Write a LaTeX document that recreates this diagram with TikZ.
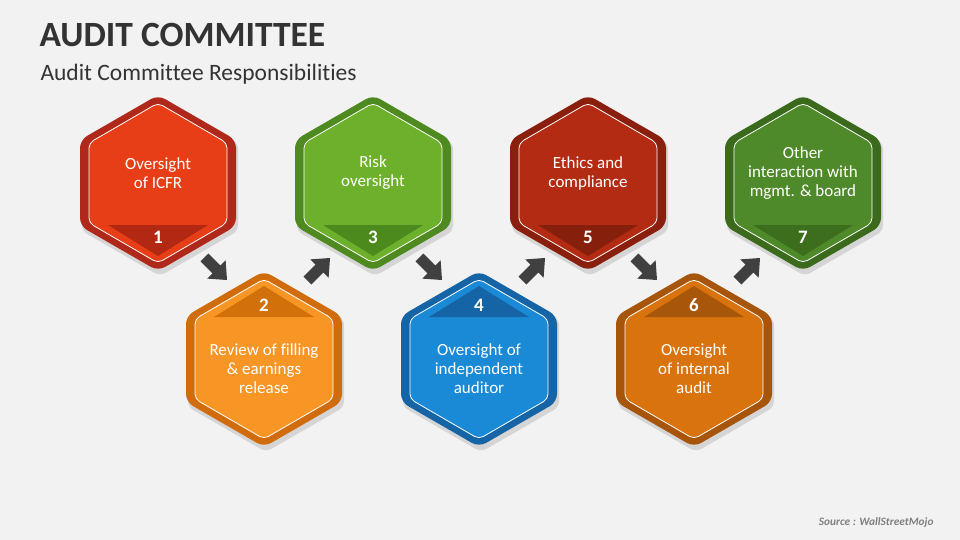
\documentclass[tikz,border=0pt]{standalone}
\usepackage{fontspec}
\setmainfont{Carlito}[Ligatures=CommonOff]
\definecolor{b1}{HTML}{B0281A}\definecolor{f1}{HTML}{E83E17}\definecolor{n1}{HTML}{B22813}
\definecolor{b2}{HTML}{D06C0C}\definecolor{f2}{HTML}{F79525}\definecolor{n2}{HTML}{D2700A}
\definecolor{b3}{HTML}{4F8A20}\definecolor{f3}{HTML}{6CB02C}\definecolor{n3}{HTML}{4D8A1E}
\definecolor{b4}{HTML}{1565A6}\definecolor{f4}{HTML}{1B8AD6}\definecolor{n4}{HTML}{1565A6}
\definecolor{b5}{HTML}{8A1F0E}\definecolor{f5}{HTML}{B32B12}\definecolor{n5}{HTML}{86200C}
\definecolor{b6}{HTML}{A6550A}\definecolor{f6}{HTML}{D9730D}\definecolor{n6}{HTML}{A8570A}
\definecolor{b7}{HTML}{3B6A1D}\definecolor{f7}{HTML}{4F8A2A}\definecolor{n7}{HTML}{3D6E1E}
\tikzset{x=1pt,y=-1pt,
 htxt/.style={text=white,font=\fontsize{17}{19}\selectfont,align=center},
 hnum/.style={text=white,font=\fontsize{19}{20}\selectfont\bfseries},
 arr/.style={fill=black!75}}
\newcommand{\hexa}[6]{% name, x, y, colour index, dir, text
 \begin{scope}[shift={(#2,#3)}]
  \fill[black!30,opacity=.45,rounded corners=6] (2,-85)--(80,-40)--(80,48)--(2,93)--(-76,48)--(-76,-40)--cycle;
  \fill[b#4,rounded corners=8] (0,-88)--(78,-43)--(78,43)--(0,88)--(-78,43)--(-78,-43)--cycle;
  \fill[f#4,draw=white,line width=0.8pt,rounded corners=5] (0,-80)--(69,-40)--(69,40)--(0,80)--(-69,40)--(-69,-40)--cycle;
  \fill[n#4] (-50,#5*42)--(50,#5*42)--(0,#5*73)--cycle;
  \node[hnum] (#1n) at (0,#5*54) {#4};
  \node[htxt] (#1) at (0,-#5*10) {#6};
 \end{scope}}
\newcommand{\barrow}[3]{\begin{scope}[shift={(#1,#2)},rotate=#3]
 \fill[arr] (-15,-5.5)--(2,-5.5)--(2,-13)--(17,0)--(2,13)--(2,5.5)--(-15,5.5)--cycle;\end{scope}}
\begin{document}
\begin{tikzpicture}
\fill[black!5] (0,0) rectangle (960,540);
\useasboundingbox (0,0) rectangle (960,540);
\node[anchor=west,font=\fontsize{35.5}{38}\selectfont\bfseries,text=black!80] (title) at (36,35) {AUDIT COMMITTEE};
\node[anchor=west,font=\fontsize{23.5}{25}\selectfont,text=black!80] (sub) at (37,74) {Audit Committee Responsibilities};
\node[anchor=east,font=\fontsize{11.3}{13}\selectfont\bfseries\itshape,text=black!50] (src) at (937,522) {Source : WallStreetMojo};
\barrow{215}{268}{-45}\barrow{318}{270}{45}
\barrow{430}{268}{-45}\barrow{533}{270}{45}
\barrow{645}{268}{-45}\barrow{748}{270}{45}
\hexa{h1}{158}{183}{1}{1}{Oversight\\of ICFR}
\hexa{h2}{264}{359}{2}{-1}{Review of filling\\\& earnings\\release}
\hexa{h3}{373}{183}{3}{1}{Risk\\oversight}
\hexa{h4}{479}{359}{4}{-1}{Oversight of\\independent\\auditor}
\hexa{h5}{588}{183}{5}{1}{Ethics and\\compliance}
\hexa{h6}{694}{359}{6}{-1}{Oversight\\of internal\\audit}
\hexa{h7}{803}{183}{7}{1}{Other\\interaction with\\mgmt. \& board}
\end{tikzpicture}
\end{document}
